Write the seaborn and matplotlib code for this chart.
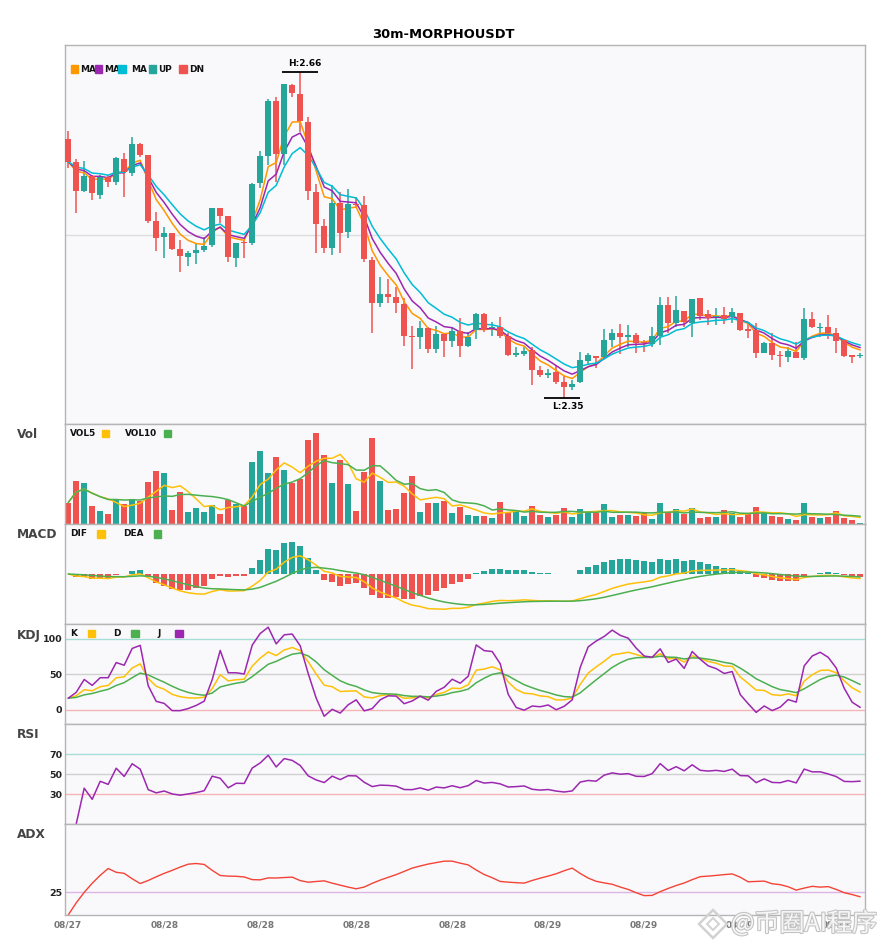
# 30m candlestick chart with MA / VOL / MACD / KDJ / RSI / ADX panels
import numpy as np
import pandas as pd
import matplotlib
matplotlib.use("Agg")
import matplotlib.pyplot as plt
import matplotlib.patheffects as pe
import seaborn as sns
from matplotlib.patches import Rectangle, RegularPolygon

symbol = "30m-MORPHOUSDT"
start_time = "2025-08-27 20:00"
watermark = "@币圈AI程序"

# candle data (100 bars, 30 min each)
opens = [2.5961, 2.5739, 2.5467, 2.5609, 2.5431, 2.5602, 2.5555, 2.5771, 2.5635, 2.5913,
         2.5809, 2.5182, 2.5032, 2.5067, 2.4916, 2.4842, 2.4880, 2.4906, 2.4956, 2.5302,
         2.5229, 2.4833, 2.4975, 2.4975, 2.5540, 2.5799, 2.6321, 2.5818, 2.6474, 2.6388,
         2.6119, 2.5457, 2.5134, 2.4928, 2.5355, 2.5080, 2.5343, 2.5334, 2.4811, 2.4400,
         2.4488, 2.4460, 2.4393, 2.4089, 2.4082, 2.4162, 2.3968, 2.4108, 2.4044, 2.4136,
         2.3997, 2.4146, 2.4295, 2.4162, 2.4172, 2.4089, 2.3911, 2.3918, 2.3956, 2.3766,
         2.3721, 2.3750, 2.3649, 2.3607, 2.3655, 2.3854, 2.3899, 2.3892, 2.4051, 2.4120,
         2.4082, 2.4098, 2.4035, 2.4013, 2.4089, 2.4384, 2.4210, 2.4329, 2.4215, 2.4446,
         2.4298, 2.4267, 2.4289, 2.4267, 2.4310, 2.4146, 2.4146, 2.3930, 2.4025, 2.3909,
         2.3892, 2.3940, 2.3877, 2.4250, 2.4162, 2.4177, 2.4120, 2.4051, 2.3899, 2.3896]
highs = [2.6037, 2.5768, 2.5752, 2.5619, 2.5619, 2.5619, 2.5792, 2.5825, 2.5982, 2.5925,
         2.5809, 2.5270, 2.5127, 2.5067, 2.5001, 2.4899, 2.4970, 2.5032, 2.5302, 2.5302,
         2.5229, 2.4975, 2.5001, 2.5545, 2.5849, 2.6338, 2.6362, 2.6483, 2.6483, 2.6600,
         2.6167, 2.5533, 2.5198, 2.5524, 2.5460, 2.5483, 2.5412, 2.5419, 2.4840, 2.4652,
         2.4631, 2.4552, 2.4447, 2.4184, 2.4234, 2.4172, 2.4184, 2.4108, 2.4162, 2.4257,
         2.4130, 2.4310, 2.4305, 2.4225, 2.4267, 2.4120, 2.3987, 2.3987, 2.3987, 2.3804,
         2.3773, 2.3814, 2.3709, 2.3671, 2.3940, 2.3930, 2.3899, 2.4153, 2.4153, 2.4203,
         2.4194, 2.4115, 2.4051, 2.4177, 2.4457, 2.4457, 2.4469, 2.4329, 2.4437, 2.4446,
         2.4336, 2.4352, 2.4362, 2.4352, 2.4310, 2.4215, 2.4215, 2.4035, 2.4115, 2.3949,
         2.3987, 2.4035, 2.4352, 2.4314, 2.4210, 2.4289, 2.4162, 2.4051, 2.3909, 2.3930]
lows = [2.5688, 2.5260, 2.5457, 2.5381, 2.5393, 2.5507, 2.5524, 2.5412, 2.5609, 2.5792,
        2.5160, 2.4899, 2.4833, 2.4906, 2.4700, 2.4757, 2.4773, 2.4890, 2.4937, 2.5160,
        2.4795, 2.4747, 2.4830, 2.4953, 2.5492, 2.5714, 2.5555, 2.5714, 2.6357, 2.6030,
        2.5381, 2.4875, 2.4875, 2.4859, 2.4880, 2.5017, 2.5317, 2.4795, 2.4115, 2.4362,
        2.4400, 2.4305, 2.3994, 2.3773, 2.3966, 2.3925, 2.3930, 2.3892, 2.3982, 2.3892,
        2.3982, 2.4058, 2.4130, 2.4089, 2.4067, 2.3899, 2.3892, 2.3899, 2.3624, 2.3697,
        2.3687, 2.3633, 2.3497, 2.3576, 2.3640, 2.3823, 2.3782, 2.3877, 2.3987, 2.3920,
        2.3987, 2.3930, 2.3940, 2.3987, 2.3999, 2.4115, 2.4177, 2.4177, 2.4082, 2.4241,
        2.4194, 2.4194, 2.4203, 2.4210, 2.4136, 2.4067, 2.3877, 2.3925, 2.3861, 2.3797,
        2.3845, 2.3877, 2.3861, 2.4162, 2.4082, 2.4058, 2.3930, 2.3892, 2.3835, 2.3877]
closes = [2.5745, 2.5469, 2.5612, 2.5445, 2.5602, 2.5555, 2.5777, 2.5644, 2.5913, 2.5811,
          2.5184, 2.5023, 2.5067, 2.4918, 2.4852, 2.4878, 2.4906, 2.4944, 2.5302, 2.5232,
          2.4842, 2.4975, 2.4968, 2.5533, 2.5799, 2.6324, 2.5818, 2.6483, 2.6395, 2.6131,
          2.5469, 2.5150, 2.4928, 2.5355, 2.5070, 2.5343, 2.5331, 2.4818, 2.4400, 2.4488,
          2.4462, 2.4400, 2.4092, 2.4080, 2.4162, 2.3968, 2.4108, 2.4044, 2.4136, 2.3997,
          2.4082, 2.4295, 2.4146, 2.4172, 2.4092, 2.3911, 2.3925, 2.3946, 2.3766, 2.3719,
          2.3735, 2.3655, 2.3607, 2.3633, 2.3861, 2.3906, 2.3880, 2.4051, 2.4120, 2.4082,
          2.4098, 2.4025, 2.4020, 2.4089, 2.4384, 2.4210, 2.4336, 2.4225, 2.4437, 2.4279,
          2.4257, 2.4279, 2.4251, 2.4317, 2.4146, 2.4139, 2.3930, 2.4025, 2.3909, 2.3899,
          2.3949, 2.3877, 2.4250, 2.4172, 2.4172, 2.4115, 2.4044, 2.3899, 2.3892, 2.3902]
# volume in thousands
volumes = [64, 127, 121, 55, 40, 31, 73, 61, 76, 68,
           124, 157, 151, 43, 94, 37, 49, 37, 58, 31,
           71, 61, 55, 184, 217, 151, 199, 160, 121, 133,
           250, 271, 205, 121, 190, 118, 40, 154, 256, 127,
           43, 46, 91, 142, 37, 64, 64, 70, 34, 52,
           28, 25, 25, 19, 67, 37, 43, 25, 55, 28,
           22, 28, 49, 22, 46, 37, 34, 61, 22, 28,
           28, 25, 34, 16, 64, 37, 46, 29, 49, 19,
           22, 22, 43, 34, 22, 31, 52, 37, 25, 22,
           16, 13, 64, 22, 19, 22, 40, 19, 13, 3]

UP = "#26a69a"
DN = "#ef5350"
GOLD = "#ffc107"
GREEN = "#4caf50"
PURPLE = "#9c27b0"
BG = "#f9f9fb"
W, H = 885, 950


def ema(s, span):
    return s.ewm(span=span, adjust=False).mean()


df = pd.DataFrame({"open": opens, "high": highs, "low": lows,
                   "close": closes, "volume": volumes})
df["x"] = np.arange(len(df))
df["time"] = pd.date_range(start_time, periods=len(df), freq="30min")
df["color"] = np.where(df["close"] >= df["open"], UP, DN)

# indicators
df["ma1"] = ema(df["close"], 5)
df["ma2"] = ema(df["close"], 7)
df["ma3"] = ema(df["close"], 10)
df["vol5"] = df["volume"].rolling(5, min_periods=1).mean()
df["vol10"] = df["volume"].rolling(10, min_periods=1).mean()

df["dif"] = ema(df["close"], 12) - ema(df["close"], 26)
df["dea"] = ema(df["dif"], 9)
df["macd_bar"] = 2 * (df["dif"] - df["dea"])

low9 = df["low"].rolling(9, min_periods=1).min()
high9 = df["high"].rolling(9, min_periods=1).max()
rsv = (df["close"] - low9) / (high9 - low9) * 100
df["kk"] = rsv.ewm(com=2, adjust=False).mean()
df["dd"] = df["kk"].ewm(com=2, adjust=False).mean()
df["jj"] = 3 * df["kk"] - 2 * df["dd"]

delta = df["close"].diff()
gain = delta.clip(lower=0).ewm(com=13, adjust=True).mean()
loss = (-delta).clip(lower=0).ewm(com=13, adjust=True).mean()
df["rsi"] = 100 - 100 / (1 + gain / loss)

prev_close = df["close"].shift()
tr = pd.concat([df["high"] - df["low"], (df["high"] - prev_close).abs(),
                (df["low"] - prev_close).abs()], axis=1).max(axis=1)
up_move = df["high"].diff()
down_move = -df["low"].diff()
plus_dm = pd.Series(np.where((up_move > down_move) & (up_move > 0), up_move, 0.0))
minus_dm = pd.Series(np.where((down_move > up_move) & (down_move > 0), down_move, 0.0))
atr = ema(tr, 14)
pdi = 100 * ema(plus_dm, 14) / atr
mdi = 100 * ema(minus_dm, 14) / atr
dx = (100 * (pdi - mdi).abs() / (pdi + mdi)).fillna(0)
df["adx"] = ema(dx, 14)

# figure
sns.set_theme(style="white")
plt.rcParams["font.family"] = ["DejaVu Sans", "Noto Sans CJK SC"]
fig = plt.figure(figsize=(W / 100, H / 100), dpi=100)


def panel(top, bottom):
    ax = fig.add_axes([65 / W, 1 - bottom / H, 800 / W, (bottom - top) / H])
    ax.set_facecolor(BG)
    for sp in ax.spines.values():
        sp.set_color("#b4b4b4")
        sp.set_linewidth(1)
    ax.set_xlim(-0.4, len(df) - 0.4)
    ax.set_xticks([])
    ax.set_yticks([])
    return ax


def line(ax, col, color, lw=1.1):
    sns.lineplot(x=df["x"], y=df[col], ax=ax, color=color, linewidth=lw, legend=False)
    ax.set_xlabel("")
    ax.set_ylabel("")


def ftext(px, py, s, **kw):
    fig.text(px / W, 1 - py / H, s, **kw)


def fsquare(px, py, color, size=7.5):
    fig.add_artist(Rectangle((px / W, 1 - (py + size / 2) / H), size / W, size / H,
                             transform=fig.transFigure, color=color, zorder=5))


def legend(py, items):
    for tx, label, sx, color in items:
        ftext(tx, py, label, fontsize=6.4, fontweight="bold", color="#111111",
              va="center", ha="left")
        fsquare(sx, py, color)


def ylabels(ax, vals):
    ax.set_yticks(vals)
    ax.set_yticklabels([str(v) for v in vals], fontsize=6.8, fontweight="bold",
                       color="#222222")
    ax.tick_params(axis="y", length=0, pad=2)


# price panel
ax_p = panel(45, 424)
rng = df["high"].max() - df["low"].min()
ax_p.set_ylim(df["low"].min() - 0.079 * rng, df["high"].max() + 0.082 * rng)
ax_p.axhline(np.mean(ax_p.get_ylim()), color="#dddddd", lw=1, zorder=0)
ax_p.vlines(df["x"], df["low"], df["high"], colors=df["color"], linewidth=1.1, zorder=2)
body = (df["close"] - df["open"]).abs().clip(lower=rng * 0.004)
ax_p.bar(df["x"], body, bottom=np.minimum(df["open"], df["close"]), width=0.74,
         color=df["color"], linewidth=0, zorder=3)
line(ax_p, "ma1", "#ff9800")
line(ax_p, "ma2", PURPLE)
line(ax_p, "ma3", "#00bcd4")

hi_i = df["high"].idxmax()
lo_i = df["low"].idxmin()
hi_v = df["high"][hi_i]
lo_v = df["low"][lo_i]
ax_p.hlines(hi_v, hi_i - 2.3, hi_i + 2.2, color="black", lw=1.3, zorder=6)
ax_p.text(hi_i + 0.6, hi_v + 0.004, f"H:{hi_v:.2f}", ha="center",
          va="bottom", fontsize=6.5, fontweight="bold", color="black")
ax_p.hlines(lo_v, lo_i - 2.5, lo_i + 2.0, color="black", lw=1.3, zorder=6)
ax_p.text(lo_i + 0.5, lo_v - 0.004, f"L:{lo_v:.2f}", ha="center",
          va="top", fontsize=6.5, fontweight="bold", color="black")

legend(69, [(80.5, "MA", 70.5, "#ff9800"), (104.5, "MA", 94.5, PURPLE),
            (131, "MA", 118, "#00bcd4"), (158.5, "UP", 148.5, UP),
            (189, "DN", 179, DN)])

# volume panel
ax_v = panel(424, 524)
ax_v.bar(df["x"], df["volume"], width=0.74, color=df["color"], linewidth=0)
line(ax_v, "vol5", GOLD)
line(ax_v, "vol10", GREEN)
ax_v.set_ylim(0, df["volume"].max() * 1.1)
legend(433.5, [(70, "VOL5", 101.5, GOLD), (125, "VOL10", 163.5, GREEN)])

# MACD panel
ax_m = panel(524, 624)
bar_colors = np.where(df["macd_bar"] >= 0, UP, DN)
ax_m.bar(df["x"], df["macd_bar"], width=0.74, color=bar_colors, linewidth=0)
line(ax_m, "dif", GOLD)
line(ax_m, "dea", GREEN)
m = max(df["dif"].abs().max(), df["dea"].abs().max(), df["macd_bar"].abs().max()) * 1.42
ax_m.set_ylim(-m, m)
legend(534, [(70, "DIF", 97, GOLD), (123, "DEA", 153.5, GREEN)])

# KDJ panel
ax_k = panel(624, 724)
ax_k.axhline(100, color="#a8dcd6", lw=1)
ax_k.axhline(50, color="#d0d0d0", lw=1)
ax_k.axhline(0, color="#f5b5b5", lw=1)
line(ax_k, "kk", GOLD)
line(ax_k, "dd", GREEN)
line(ax_k, "jj", PURPLE)
ax_k.set_ylim(-20, 121)
ylabels(ax_k, [0, 50, 100])
legend(633.5, [(70, "K", 87.5, GOLD), (113, "D", 131, GREEN), (157, "J", 175, PURPLE)])

# RSI panel
ax_r = panel(724, 824)
ax_r.axhline(70, color="#a8dcd6", lw=1)
ax_r.axhline(50, color="#d0d0d0", lw=1)
ax_r.axhline(30, color="#f5b5b5", lw=1)
line(ax_r, "rsi", PURPLE)
ax_r.set_ylim(0, 100)
ylabels(ax_r, [30, 50, 70])

# ADX panel
ax_a = panel(824, 915)
ax_a.axhline(25, color="#dcb4e6", lw=1)
line(ax_a, "adx", "#f44336", lw=1.0)
ax_a.set_ylim(0, 100)
ylabels(ax_a, [25])
ax_a.set_xticks(df["x"][::12])
ax_a.set_xticklabels(df["time"][::12].dt.strftime("%m/%d"), fontsize=6.5,
                     fontweight="bold", color="#777777")
ax_a.tick_params(axis="x", length=0, pad=4)

# panel names and title
for name, py in [("Vol", 434), ("MACD", 535), ("KDJ", 635), ("RSI", 735), ("ADX", 835)]:
    ftext(17, py, name, fontsize=8.7, fontweight="bold", color="#444444",
          va="center", ha="left")
ftext(443, 34, symbol, fontsize=9.4, fontweight="bold", color="black",
      ha="center", va="center")

# watermark: diamond logo + handle
for r, lw in [(0.14, 1.8), (0.06, 1.4)]:
    fig.add_artist(RegularPolygon((7.13, (H - 924) / 100), 4, radius=r,
                                  transform=fig.dpi_scale_trans, fill=False,
                                  edgecolor="#d2d2d2", lw=lw, zorder=6))
ftext(804, 924, watermark, fontsize=18, color="#f6f6f6", ha="center",
      va="center", family=["Noto Sans CJK SC", "DejaVu Sans"], zorder=6,
      path_effects=[pe.withStroke(linewidth=1.6, foreground="#c4c4c4")])

fig.savefig("out.png", dpi=100)
